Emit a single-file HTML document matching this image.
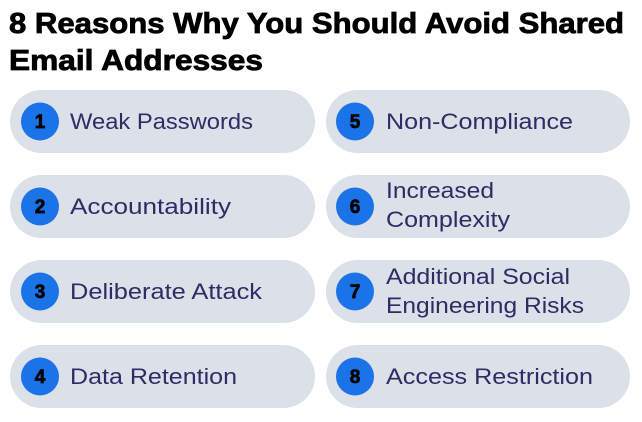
<!DOCTYPE html>
<html><head><meta charset="utf-8"><style>
html,body{margin:0;padding:0;background:#fff;}
svg{display:block;font-family:"Liberation Sans",sans-serif;}
.t{font-size:29px;font-weight:bold;fill:#000;stroke:#000;stroke-width:0.8;}
.i{font-size:22px;fill:#2b2d63;}
.n{font-size:19px;font-weight:bold;fill:#000;stroke:#000;stroke-width:0.7;}
</style></head><body>
<svg width="642" height="422" viewBox="0 0 642 422">
<text class="t" x="9" y="33" textLength="615" lengthAdjust="spacingAndGlyphs">8 Reasons Why You Should Avoid Shared</text>
<text class="t" x="9" y="70" textLength="254" lengthAdjust="spacingAndGlyphs">Email Addresses</text>
<g fill="#dbe0e9">
<rect x="10" y="90" width="305" height="63" rx="31.5"/>
<rect x="10" y="175" width="305" height="63" rx="31.5"/>
<rect x="10" y="260" width="305" height="63" rx="31.5"/>
<rect x="10" y="345" width="305" height="63" rx="31.5"/>
<rect x="326" y="90" width="304" height="63" rx="31.5"/>
<rect x="326" y="175" width="304" height="63" rx="31.5"/>
<rect x="326" y="260" width="304" height="63" rx="31.5"/>
<rect x="326" y="345" width="304" height="63" rx="31.5"/>
</g>
<g fill="#1b73e8">
<circle cx="40" cy="121.5" r="19"/><circle cx="40" cy="206.5" r="19"/><circle cx="40" cy="291.5" r="19"/><circle cx="40" cy="376.5" r="19"/>
<circle cx="355" cy="121.5" r="19"/><circle cx="355" cy="206.5" r="19"/><circle cx="355" cy="291.5" r="19"/><circle cx="355" cy="376.5" r="19"/>
</g>
<g class="n" text-anchor="middle">
<text x="40" y="128">1</text><text x="40" y="213">2</text><text x="40" y="298">3</text><text x="40" y="383">4</text>
<text x="355" y="128">5</text><text x="355" y="213">6</text><text x="355" y="298">7</text><text x="355" y="383">8</text>
</g>
<g class="i">
<text x="70" y="129" textLength="183" lengthAdjust="spacingAndGlyphs">Weak Passwords</text>
<text x="70" y="214" textLength="161" lengthAdjust="spacingAndGlyphs">Accountability</text>
<text x="70" y="299" textLength="192" lengthAdjust="spacingAndGlyphs">Deliberate Attack</text>
<text x="70" y="384" textLength="167" lengthAdjust="spacingAndGlyphs">Data Retention</text>
<text x="386" y="129" textLength="187" lengthAdjust="spacingAndGlyphs">Non-Compliance</text>
<text x="386" y="198" textLength="108" lengthAdjust="spacingAndGlyphs">Increased</text>
<text x="386" y="227" textLength="124" lengthAdjust="spacingAndGlyphs">Complexity</text>
<text x="386" y="284" textLength="184" lengthAdjust="spacingAndGlyphs">Additional Social</text>
<text x="386" y="313" textLength="198" lengthAdjust="spacingAndGlyphs">Engineering Risks</text>
<text x="386" y="384" textLength="207" lengthAdjust="spacingAndGlyphs">Access Restriction</text>
</g>
</svg>
</body></html>
